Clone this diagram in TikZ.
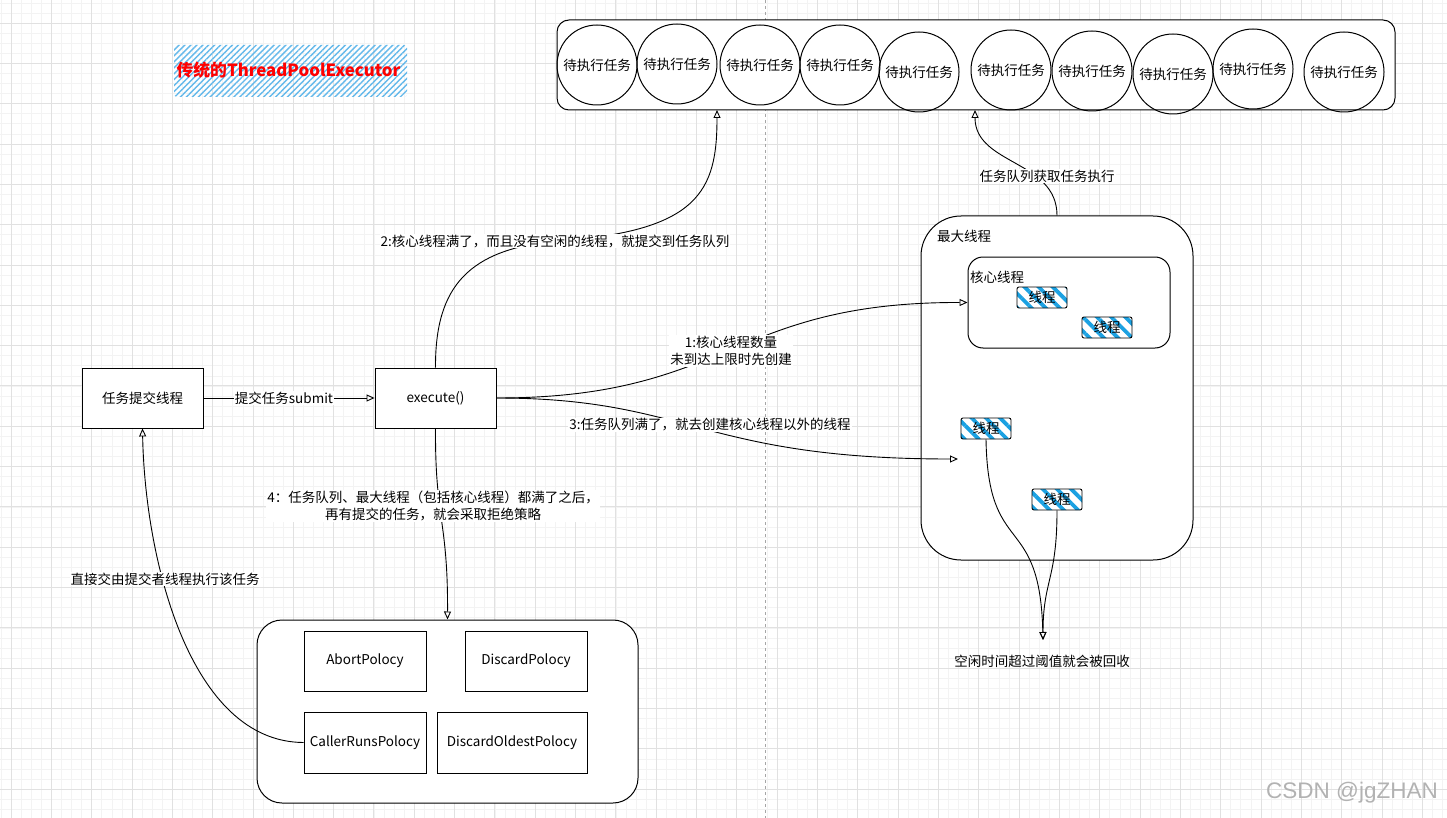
\documentclass[tikz,border=0pt]{standalone}
\usepackage{fontspec}
\setmainfont{Noto Sans CJK SC}
\newfontfamily\wmfont{Liberation Sans}
\usetikzlibrary{arrows.meta,patterns.meta}
\definecolor{hatch}{RGB}{27,161,226}
\definecolor{hatchlight}{RGB}{100,185,235}
\definecolor{gridminor}{RGB}{243,243,243}
\definecolor{gridmajor}{RGB}{225,225,225}
\definecolor{titlered}{RGB}{255,0,0}
\begin{document}
\begin{tikzpicture}[x=1pt,y=-1pt,
  font=\fontsize{13.5}{17}\selectfont,
  sq/.style={draw, line width=0.9pt, minimum width=121pt, minimum height=60pt, inner sep=0pt},
  pbox/.style={draw, line width=0.9pt, minimum height=60pt, inner sep=0pt},
  task/.style={draw, circle, line width=1pt, minimum size=80pt, inner sep=0pt},
  thr/.style={draw, line width=0.9pt, rounded corners=2pt, minimum width=50pt, minimum height=21pt, inner sep=0pt,
    pattern={Lines[angle=-45,distance=10pt,line width=3.8pt]}, pattern color=hatch},
  group/.style={draw, line width=1pt},
  conn/.style={line width=0.9pt, -{Triangle[open,length=8pt,width=7pt]}},
  lbl/.style={fill=white, inner sep=1pt, align=center},
  plain/.style={inner sep=0pt}]
\useasboundingbox (0,0) rectangle (1447,818);
\fill[white] (0,0) rectangle (1447,818);
% grid
\foreach \i in {0,...,143} \draw[gridminor, line width=0.6pt] (0.92+\i*10.08,0) -- (0.92+\i*10.08,818);
\foreach \i in {0,...,81} \draw[gridminor, line width=0.6pt] (0,2.84+\i*10.08) -- (1447,2.84+\i*10.08);
\foreach \k in {0,...,35} \draw[gridmajor, line width=0.8pt] (11+\k*40.32,0) -- (11+\k*40.32,818);
\foreach \k in {0,...,19} \draw[gridmajor, line width=0.8pt] (0,23+\k*40.32) -- (1447,23+\k*40.32);
\draw[black!35, dashed, line width=0.6pt] (765,0) -- (765,818);

% title
\node[plain, minimum width=233pt, minimum height=52pt, rounded corners=3pt,
  pattern={Lines[angle=45,distance=4.2pt,line width=1.4pt]}, pattern color=hatchlight] (title) at (290.5,71) {};
\node[plain, text=titlered, font=\fontsize{16.8}{19}\selectfont\bfseries] (titletext) at (288.5,70) {传统的ThreadPoolExecutor};

% queue
\node[group, rounded corners=12pt, minimum width=838pt, minimum height=90pt, fill=white] (queue) at (976,65) {};
\node[task] (q1) at (597,65) {待执行任务};
\node[task] (q2) at (677,64) {待执行任务};
\node[task] (q3) at (760,65) {待执行任务};
\node[task] (q4) at (840,65) {待执行任务};
\node[task] (q5) at (919,72) {待执行任务};
\node[task] (q6) at (1011,70) {待执行任务};
\node[task] (q7) at (1092,71) {待执行任务};
\node[task] (q8) at (1173,74) {待执行任务};
\node[task] (q9) at (1253,69) {待执行任务};
\node[task] (q10) at (1344,72) {待执行任务};
\coordinate (qin2) at (717,110);
\coordinate (qin3) at (975,110);

% left boxes
\node[sq, fill=white] (submitter) at (142.5,398) {任务提交线程};
\node[sq, fill=white] (exec) at (435.5,398) {execute()};

% max threads
\node[group, rounded corners=40pt, minimum width=272pt, minimum height=344pt, fill=white] (maxbox) at (1057,388) {};
\node[plain, anchor=west] (maxlbl) at (937,236) {最大线程};
\node[group, rounded corners=15pt, minimum width=202pt, minimum height=91pt] (core) at (1069,302.5) {};
\node[plain, anchor=west] (corelbl) at (970,277) {核心线程};
\node[thr] (thrA) at (1042,297.5) {线程};
\node[thr] (thrB) at (1107,327.5) {线程};
\node[thr] (thrC) at (986,428.5) {线程};
\node[thr] (thrD) at (1057,499.5) {线程};
\coordinate (c3end) at (958,459);
\coordinate (rc) at (1043,640);

% policies
\node[group, rounded corners=25pt, minimum width=381pt, minimum height=183pt, fill=white] (pol) at (447.5,711.5) {};
\node[pbox, minimum width=122pt] (abort) at (365,661) {AbortPolocy};
\node[pbox, minimum width=122pt] (discard) at (526,661) {DiscardPolocy};
\node[pbox, minimum width=122pt, minimum height=61pt] (caller) at (365,742.5) {CallerRunsPolocy};
\node[pbox, minimum width=150pt, minimum height=61pt] (oldest) at (512,742.5) {DiscardOldestPolocy};

% connectors
\draw[conn] (submitter.east) -- (exec.west);
\draw[conn] (exec.north) .. controls (435,285) and (470,250) .. (555,241)
   .. controls (700,232) and (717,190) .. (qin2);
\draw[conn] (exec.east) .. controls (730,398) and (730,302) .. (core.west);
\draw[conn] (exec.east) .. controls (690,398) and (700,459) .. (c3end);
\draw[conn] (exec.south) .. controls (435,520) and (448,520) .. (pol.north);
\draw[conn] (caller.west) .. controls (190,742) and (145,560) .. (submitter.south);
\draw[conn] (maxbox.north) .. controls (1057,160) and (975,165) .. (qin3);
\draw[conn] (thrC.south) .. controls (988,560) and (1040,510) .. (rc);
\draw[conn] (thrD.south) .. controls (1057,580) and (1043,580) .. (rc);

% labels
\node[lbl] (l0) at (284,398) {提交任务submit};
\node[lbl] (l2) at (555,241) {2:核心线程满了，而且没有空闲的线程，就提交到任务队列};
\node[lbl] (l1) at (731,351) {1:核心线程数量\\未到达上限时先创建};
\node[lbl] (l3) at (710,425) {3:任务队列满了，就去创建核心线程以外的线程};
\node[lbl] (l4) at (433,506) {4：任务队列、最大线程（包括核心线程）都满了之后，\\再有提交的任务，就会采取拒绝策略};
\node[lbl] (l5) at (165,579) {直接交由提交者线程执行该任务};
\node[lbl] (l6) at (1047,176) {任务队列获取任务执行};
\node[plain] (l7) at (1042,661) {空闲时间超过阈值就会被回收};

\node[plain, text=black!30, font=\wmfont\fontsize{22.5}{25}\selectfont] (wm) at (1352,793) {CSDN @jgZHAN};
\end{tikzpicture}
\end{document}
